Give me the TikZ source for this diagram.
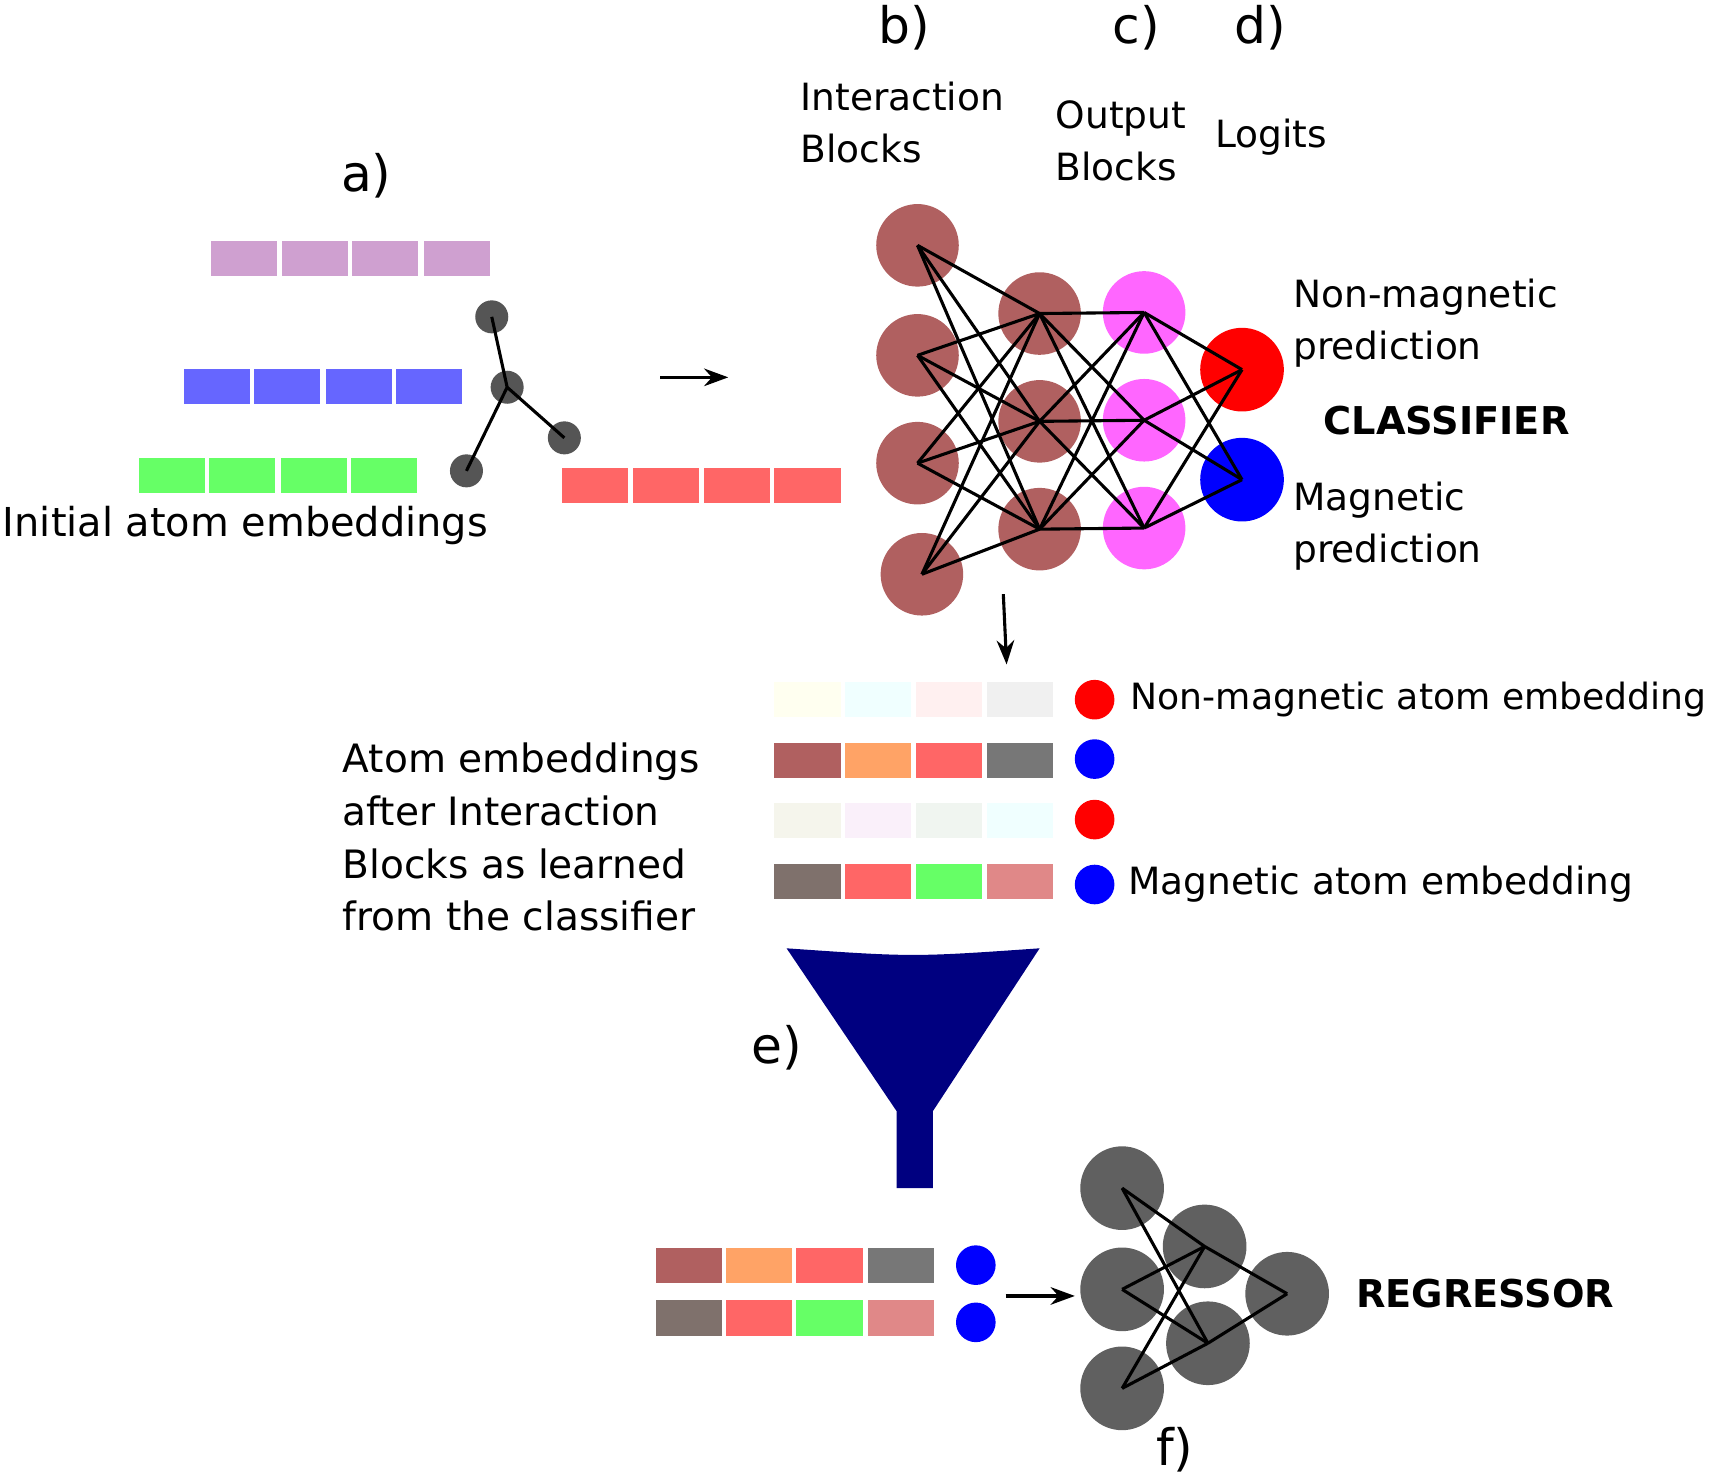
\documentclass[tikz,border=0pt]{standalone}
\usepackage{fontspec}
\setmainfont{DejaVu Sans}
\usetikzlibrary{arrows.meta}
\begin{document}
\begin{tikzpicture}[x=0.01cm,y=-0.01cm,
 lbl/.style={font=\fontsize{9.7}{13.4}\selectfont,inner sep=0},
 big/.style={font=\fontsize{13}{16}\selectfont,inner sep=0},
 bar/.style={minimum width=0.6cm,minimum height=0.32cm,inner sep=0},
 ib/.style={circle,fill=ibc,minimum size=0.75cm,inner sep=0},
 ob/.style={circle,fill=obc,minimum size=0.75cm,inner sep=0},
 rg/.style={circle,fill=rgc,minimum size=0.76cm,inner sep=0},
 dot/.style={circle,minimum size=0.36cm,inner sep=0},
 atm/.style={circle,fill=atc,minimum size=0.3cm,inner sep=0},
 ln/.style={line width=0.8pt},
 ar/.style={-{Stealth[length=0.22cm,width=0.16cm]},line width=0.8pt}]
\definecolor{ibc}{HTML}{B06060}\definecolor{obc}{HTML}{FF66FF}
\definecolor{rgc}{HTML}{606060}\definecolor{atc}{HTML}{555555}
\definecolor{pu}{HTML}{CFA0D0}\definecolor{bl}{HTML}{6666FF}
\definecolor{gr}{HTML}{66FF66}\definecolor{rd}{HTML}{FF6666}
\definecolor{br}{HTML}{B06060}\definecolor{og}{HTML}{FFA366}
\definecolor{gy}{HTML}{777777}\definecolor{dk}{HTML}{7F716C}
\definecolor{pk}{HTML}{E08888}
\useasboundingbox (0,0) rectangle (1568,1345);
% a)
\node[big] (la) at (333,160) {a)};
\foreach \x [count=\i] in {222,286,350,415}{\node[bar,fill=pu] (p\i) at (\x,235) {};}
\foreach \x [count=\i] in {197,261,326,390}{\node[bar,fill=bl] (q\i) at (\x,351) {};}
\foreach \x [count=\i] in {156,220,285,349}{\node[bar,fill=gr] (g\i) at (\x,432) {};}
\node[atm] (m0) at (461,352) {};
\node[atm] (m1) at (447,288) {};
\node[atm] (m2) at (513,398) {};
\node[atm] (m3) at (424,428) {};
\draw[ln] (m0.center)--(m1.center) (m0.center)--(m2.center) (m0.center)--(m3.center);
\node[lbl,font=\fontsize{10.3}{13}\selectfont,anchor=west] (ia) at (2,478) {Initial atom embeddings};
\coordinate (a1) at (600,343); \coordinate (a2) at (662,343);
\draw[ar] (a1)--(a2);
\foreach \x [count=\i] in {541,605,670,734}{\node[bar,fill=rd] (r\i) at (\x,441) {};}
% headers
\node[big] (lb) at (822,25) {b)};
\node[big] (lc) at (1033,25) {c)};
\node[big] (ld) at (1146,25) {d)};
\node[lbl,anchor=west,align=left] (hib) at (727,111) {Interaction\\Blocks};
\node[lbl,anchor=west,align=left] (hob) at (959,128) {Output\\Blocks};
\node[lbl,anchor=west] (hlg) at (1104,125) {Logits};
% network
\node[ib] (i1) at (834,223) {};\node[ib] (i2) at (834,323) {};
\node[ib] (i3) at (834,421) {};\node[ib] (i4) at (838,522) {};
\node[ib] (h1) at (945,285) {};\node[ib] (h2) at (945,383) {};\node[ib] (h3) at (945,481) {};
\node[ob] (o1) at (1040,284) {};\node[ob] (o2) at (1040,382) {};\node[ob] (o3) at (1040,480) {};
\node[circle,fill=red,minimum size=0.76cm,inner sep=0] (lr) at (1129,336) {};
\node[circle,fill=blue,minimum size=0.76cm,inner sep=0] (lbz) at (1129,436) {};
\foreach \a in {i1,i2,i3,i4}{\foreach \b in {h1,h2,h3}{\draw[ln] (\a.center)--(\b.center);}}
\foreach \a in {h1,h2,h3}{\foreach \b in {o1,o2,o3}{\draw[ln] (\a.center)--(\b.center);}}
\foreach \a in {o1,o2,o3}{\foreach \b in {lr,lbz}{\draw[ln] (\a.center)--(\b.center);}}
\node[lbl,anchor=west,align=left] (nmp) at (1175,294) {Non-magnetic\\prediction};
\node[lbl,font=\fontsize{9.9}{13}\selectfont\bfseries] (cls) at (1315,382) {CLASSIFIER};
\node[lbl,anchor=west,align=left] (mp) at (1175,478) {Magnetic\\prediction};
\coordinate (d1) at (912,540); \coordinate (d2) at (915,604);
\draw[ar] (d1)--(d2);
% embeddings
\foreach \x/\c [count=\i] in {734/FFFFF0,798/F0FFFF,863/FFF0F0,927/F0F0F0}{\definecolor{tmp}{HTML}{\c}\node[bar,fill=tmp] (e1\i) at (\x,636) {};}
\foreach \x/\c [count=\i] in {734/br,798/og,863/rd,927/gy}{\node[bar,fill=\c] (e2\i) at (\x,691) {};}
\foreach \x/\c [count=\i] in {734/F5F5EC,798/FAF0FA,863/F0F5F0,927/F0FFFF}{\definecolor{tmp}{HTML}{\c}\node[bar,fill=tmp] (e3\i) at (\x,746) {};}
\foreach \x/\c [count=\i] in {734/dk,798/rd,863/gr,927/pk}{\node[bar,fill=\c] (e4\i) at (\x,801) {};}
\node[dot,fill=red] (c1) at (995,636) {};
\node[dot,fill=blue] (c2) at (995,690) {};
\node[dot,fill=red] (c3) at (995,745) {};
\node[dot,fill=blue] (c4) at (995,804) {};
\node[lbl,font=\fontsize{9.35}{13}\selectfont,anchor=west] (nme) at (1027,636) {Non-magnetic atom embedding};
\node[lbl,anchor=west] (me) at (1025,804) {Magnetic atom embedding};
\node[lbl,font=\fontsize{10.1}{13.6}\selectfont,anchor=west,align=left] (aeb) at (311,761) {Atom embeddings\\after Interaction\\Blocks as learned\\from the classifier};
% funnel
\fill[fill={rgb,255:red,0;green,0;blue,128}] (715,862) .. controls (830,870) .. (945,862) -- (848,1010) -- (848,1080) -- (815,1080) -- (815,1010) -- cycle;
\node[big] (le) at (706,952) {e)};
% bottom
\foreach \x/\c [count=\i] in {626/br,690/og,754/rd,819/gy}{\node[bar,fill=\c] (b1\i) at (\x,1150) {};}
\foreach \x/\c [count=\i] in {626/dk,690/rd,754/gr,819/pk}{\node[bar,fill=\c] (b2\i) at (\x,1198) {};}
\node[dot,fill=blue] (bd1) at (887,1150) {};
\node[dot,fill=blue] (bd2) at (887,1202) {};
\coordinate (f1) at (914,1178); \coordinate (f2) at (977,1178);
\draw[ar] (f1)--(f2);
\node[rg] (g1) at (1020,1080) {};\node[rg] (g2) at (1020,1172) {};\node[rg] (g3) at (1020,1262) {};
\node[rg] (k1) at (1095,1133) {};\node[rg] (k2) at (1098,1221) {};
\node[rg] (z) at (1170,1176) {};
\foreach \a in {g1,g2,g3}{\foreach \b in {k1,k2}{\draw[ln] (\a.center)--(\b.center);}}
\foreach \a in {k1,k2}{\draw[ln] (\a.center)--(z.center);}
\node[lbl,font=\fontsize{9.9}{13}\selectfont\bfseries] (reg) at (1350,1176) {REGRESSOR};
\node[big] (lf) at (1068,1318) {f)};
\end{tikzpicture}
\end{document}
